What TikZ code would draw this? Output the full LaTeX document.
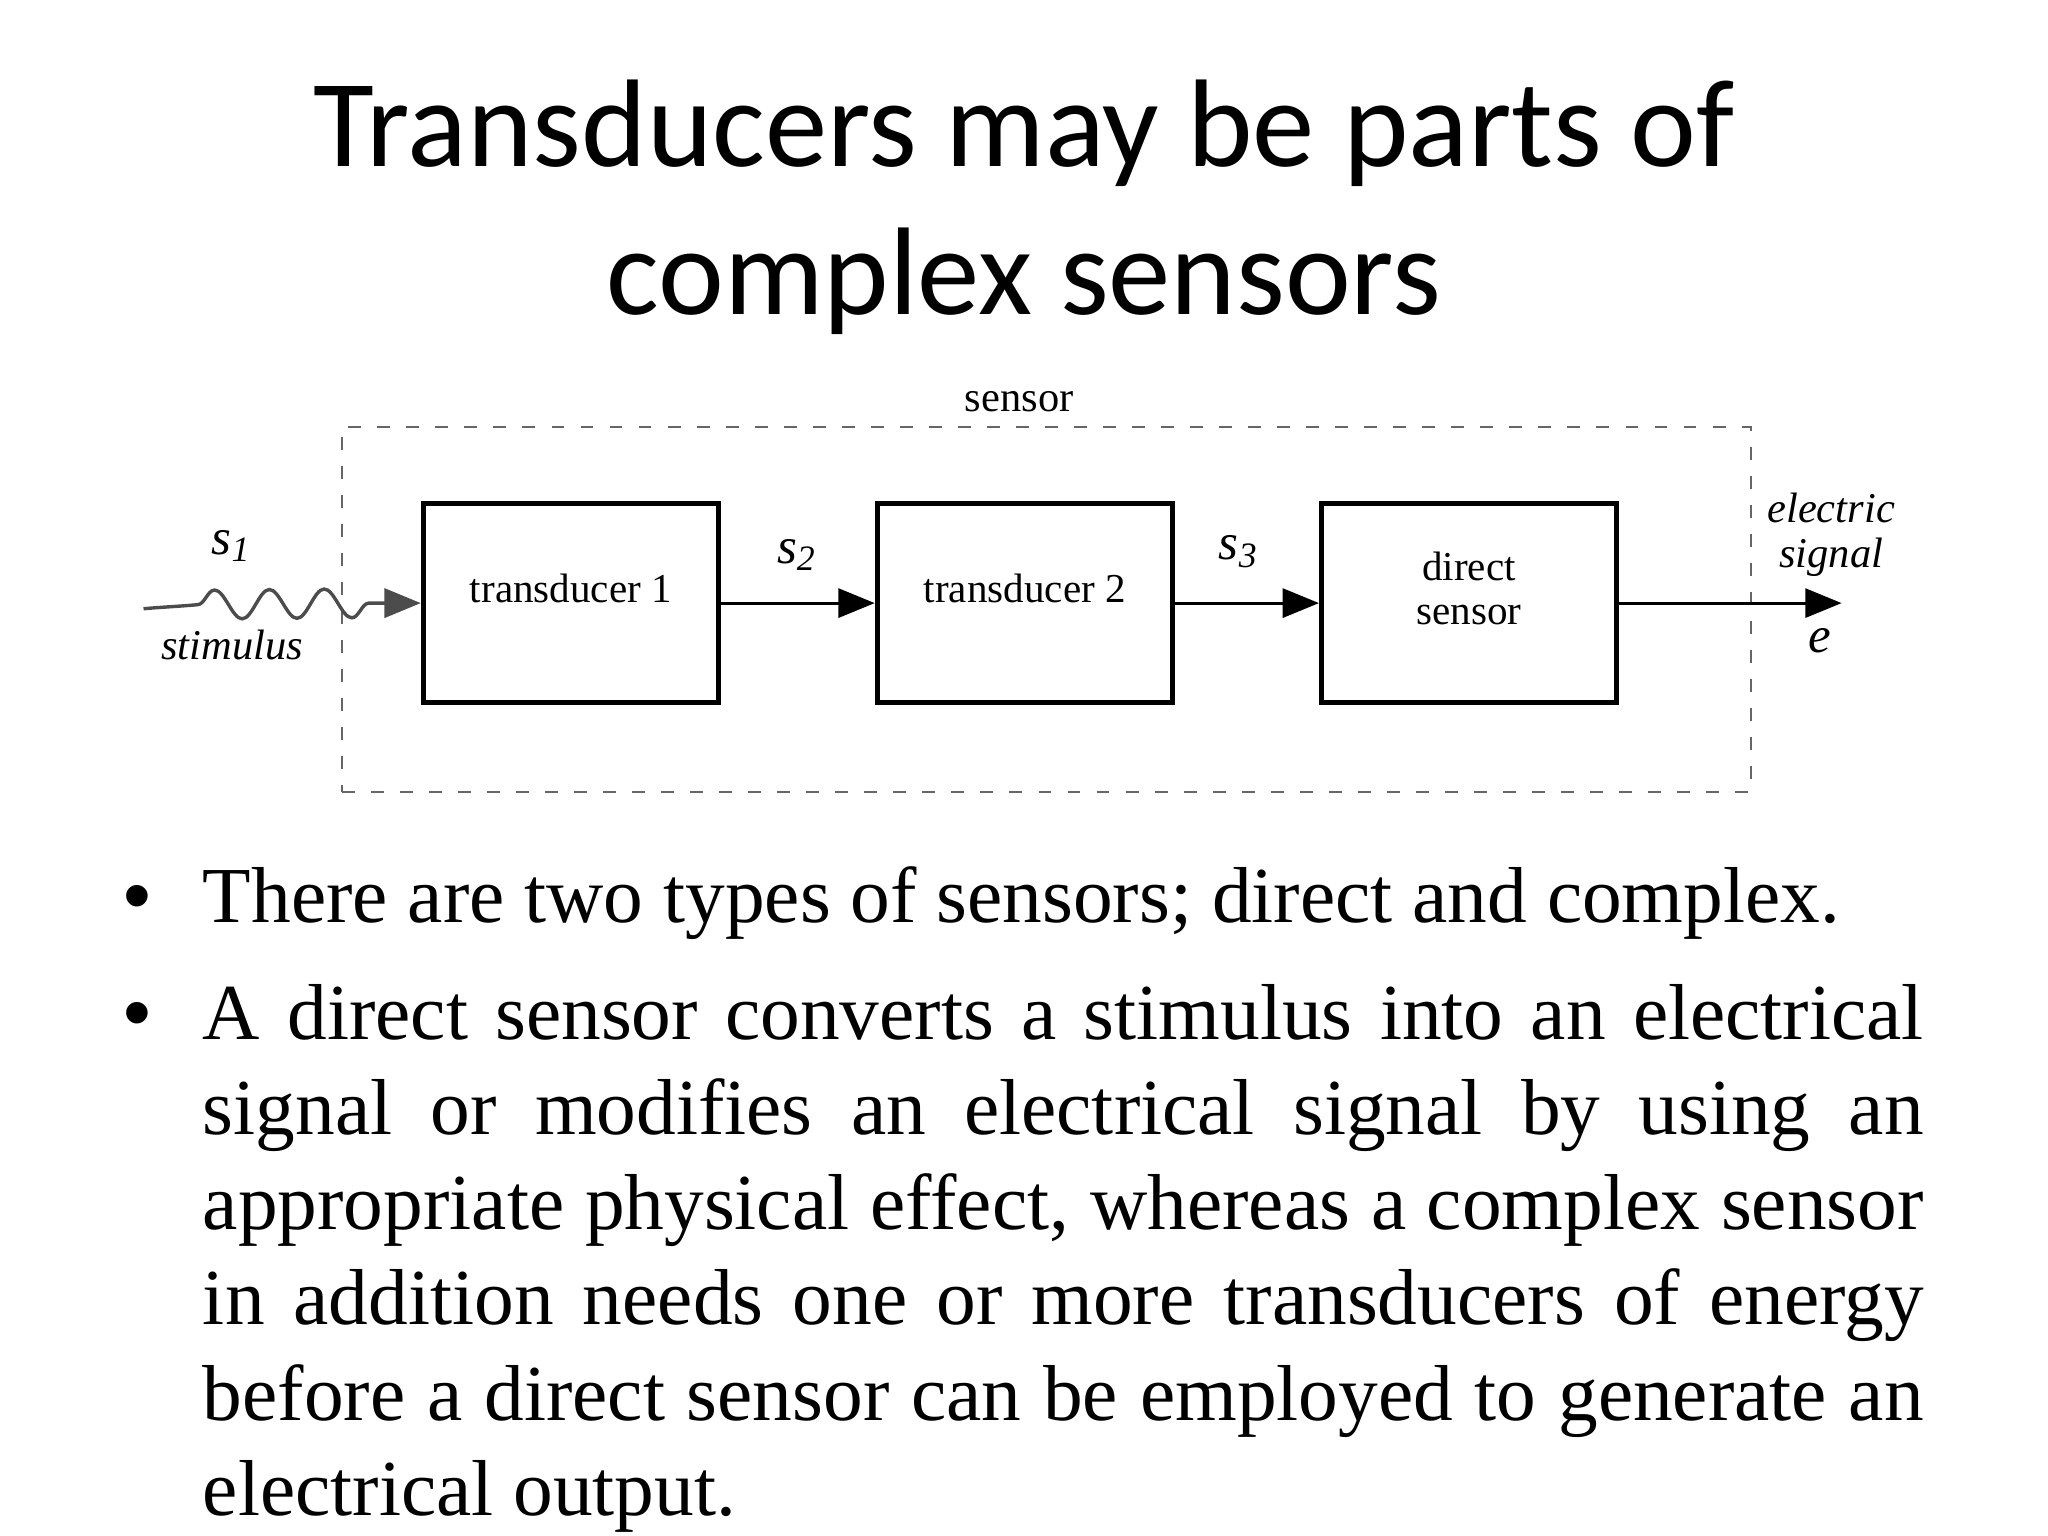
\documentclass[tikz,border=0pt]{standalone}
\usepackage{fontspec}
\setmainfont{Liberation Serif}
\newfontfamily\titlefont{Carlito}
\newfontfamily\dotfont{Liberation Sans}
\usepackage{tikz}
\usetikzlibrary{arrows.meta, decorations.pathmorphing, positioning}
\definecolor{wavegray}{gray}{0.3}
\definecolor{framegray}{gray}{0.4}
\tikzset{
  block/.style={draw, line width=1.8pt, minimum width=3.66cm, minimum height=2.46cm, inner sep=0pt},
  blocktext/.style={inner sep=0pt, align=center, font=\fontsize{14.5}{15.5}\selectfont},
  flow/.style={line width=1pt, -{Triangle[length=0.45cm, width=0.36cm]}},
  sig/.style={inner sep=0pt, font=\fontsize{18}{18}\selectfont\itshape},
  note/.style={inner sep=0pt, align=center, font=\fontsize{15}{16}\selectfont\itshape},
  frame/.style={draw=framegray, line width=0.7pt, dash pattern=on 0.16cm off 0.2cm},
  headline/.style={inner sep=0pt, anchor=base, font=\titlefont\fontsize{44}{53}\selectfont},
  bodytext/.style={inner sep=0pt, anchor=base west, font=\fontsize{28}{33.6}\selectfont},
}
\begin{document}
\begin{tikzpicture}
    \useasboundingbox (0,0) rectangle (25.4,19.05);

    % title
    \node[headline] (title1) at (12.7,16.98) {Transducers may be parts of};
    \node[headline] (title2) at (12.7,15.15) {complex sensors};

    % sensor frame
    \node[frame, minimum width=17.48cm, minimum height=4.52cm] (sensorbox) at (12.98,11.49) {};
    \node[inner sep=0pt, font=\fontsize{15}{16}\selectfont] (sensorlbl) at (12.64,14.07) {sensor};

    \node[block] (td1) at ( 7.08,11.57) {};
    \node[block] (td2) at (12.71,11.57) {};
    \node[block] (ds)  at (18.22,11.57) {};
    \node[blocktext] (td1txt) at ([yshift=0.18cm]td1.center) {transducer 1};
    \node[blocktext] (td2txt) at ([yshift=0.18cm]td2.center) {transducer 2};
    \node[blocktext] (dstxt)  at ([yshift=0.18cm]ds.center)  {direct\\sensor};

    \coordinate (stim) at (1.78,11.50);
    \coordinate (wa)   at (2.45,11.55);
    \coordinate (wb)   at (4.62,11.57);
    \coordinate (out)  at (22.84,11.57);

    \draw[flow, wavegray, line width=1.2pt] (stim) to[out=5, in=185] (wa)
        decorate[decoration={snake, segment length=0.68cm, amplitude=0.18cm}] {-- (wb)}
        -- (td1.west);
    \draw[flow] (td1.east) -- (td2.west);
    \draw[flow] (td2.east) -- (ds.west);
    \draw[flow] (ds.east) -- (out);

    \node[sig] (s1) at (2.87,12.28) {s\textsubscript{1}};
    \node[note] (stimlbl) at (2.88,11.05) {stimulus};
    \node[sig] (s2) at (9.88,12.17) {s\textsubscript{2}};
    \node[sig] (s3) at (15.36,12.21) {s\textsubscript{3}};
    \node[note] (elec) at (22.71,12.42) {electric\\signal};
    \node[sig] (e) at (22.57,11.10) {e};

    % bullets
    \node[bodytext, font=\dotfont\fontsize{28}{33.6}\selectfont] (dot1) at (1.53,7.61) {\textbullet};
    \node[bodytext, font=\dotfont\fontsize{28}{33.6}\selectfont] (dot2) at (1.53,6.16) {\textbullet};
    \node[bodytext] (p1) at (2.51,7.61) {There are two types of sensors; direct and complex.};
    \node[bodytext, text width=21.34cm, align=justify] (p2) at (2.51,6.16)
        {\hyphenpenalty=10000 A direct sensor converts a stimulus into an electrical\linebreak
         signal or modifies an electrical signal by using an\linebreak
         appropriate physical effect, whereas a complex sensor\linebreak
         in addition needs one or more transducers of energy\linebreak
         before a direct sensor can be employed to generate an\linebreak
         electrical output.};
\end{tikzpicture}
\end{document}
